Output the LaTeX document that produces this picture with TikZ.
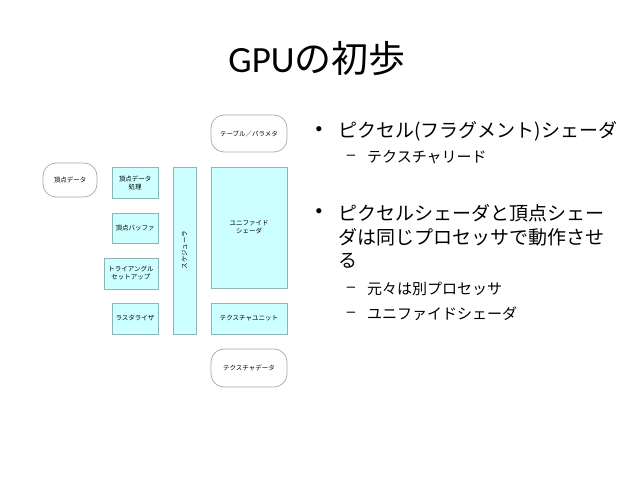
\documentclass[tikz,border=0pt]{standalone}
\usepackage{fontspec}
\setmainfont{Noto Sans CJK JP}
\newfontfamily\latinf{Carlito}
\newfontfamily\bulletf{Liberation Sans}
\definecolor{boxfill}{HTML}{CCFFFF}
\definecolor{boxline}{HTML}{8FB4B4}
\definecolor{rndline}{HTML}{A8A8A8}
\begin{document}
\begin{tikzpicture}[x=1pt,y=-1pt,
  blk/.style={draw=boxline, fill=boxfill, line width=0.7pt, font=\fontsize{6.5}{8}\selectfont, align=center, inner sep=0pt},
  rnd/.style={draw=rndline, fill=white, line width=0.7pt, rounded corners=13pt, font=\fontsize{6.5}{8}\selectfont, align=center, inner sep=0pt},
  big/.style={anchor=west, font=\fontsize{19}{22}\selectfont, inner sep=0pt},
  small/.style={anchor=west, font=\fontsize{15}{18}\selectfont, inner sep=0pt},
  bdot/.style={anchor=center, font=\bulletf\fontsize{19}{22}\selectfont, inner sep=0pt},
  bdash/.style={anchor=center, font=\bulletf\fontsize{15}{18}\selectfont, inner sep=0pt}]
\useasboundingbox (0,0) rectangle (638,478);
% title
\node[inner sep=0pt, font=\fontsize{37}{42}\selectfont] (title) at (317,59) {{\latinf GPU}の初歩};
% diagram
\node[rnd, minimum width=54pt, minimum height=34pt] (vdata) at (70,180) {頂点データ};
\node[blk, minimum width=46pt, minimum height=31pt] (vdp) at (135,182.5) {頂点データ\\処理};
\node[blk, minimum width=46pt, minimum height=30pt] (vbuf) at (135,228) {頂点バッファ};
\node[blk, minimum width=54pt, minimum height=31pt] (tri) at (131,273.5) {トライアングル\\セットアップ};
\node[blk, minimum width=46pt, minimum height=31pt] (ras) at (135,318.5) {ラスタライザ};
\node[blk, minimum width=23pt, minimum height=167pt] (sched) at (184.5,250.5) {};
\node[font=\fontsize{6.5}{8}\selectfont, rotate=90, inner sep=0pt] (schedl) at (184.5,250) {スケジューラ};
\node[rnd, minimum width=76pt, minimum height=37pt] (table) at (249,133.5) {テーブル／パラメタ};
\node[blk, minimum width=76pt, minimum height=121pt] (uni) at (249,227.5) {ユニファイド\\シェーダ};
\node[blk, minimum width=76pt, minimum height=31pt] (tu) at (249,318.5) {テクスチャユニット};
\node[rnd, minimum width=76pt, minimum height=38pt] (td) at (249,368) {テクスチャデータ};
% bullets
\node[bdot] (b1) at (319,131) {•};
\node[big] (t1) at (338,131) {ピクセル(フラグメント)シェーダ};
\node[bdash] (d1) at (351,157) {–};
\node[small] (s1) at (367,157) {テクスチャリード};
\node[bdot] (b2) at (319,213) {•};
\node[big] (t2a) at (338,213) {ピクセルシェーダと頂点シェー};
\node[big] (t2b) at (338,237) {ダは同じプロセッサで動作させ};
\node[big] (t2c) at (338,261) {る};
\node[bdash] (d2) at (351,289) {–};
\node[small] (s2) at (367,289) {元々は別プロセッサ};
\node[bdash] (d3) at (351,314) {–};
\node[small] (s3) at (367,314) {ユニファイドシェーダ};
\end{tikzpicture}
\end{document}
